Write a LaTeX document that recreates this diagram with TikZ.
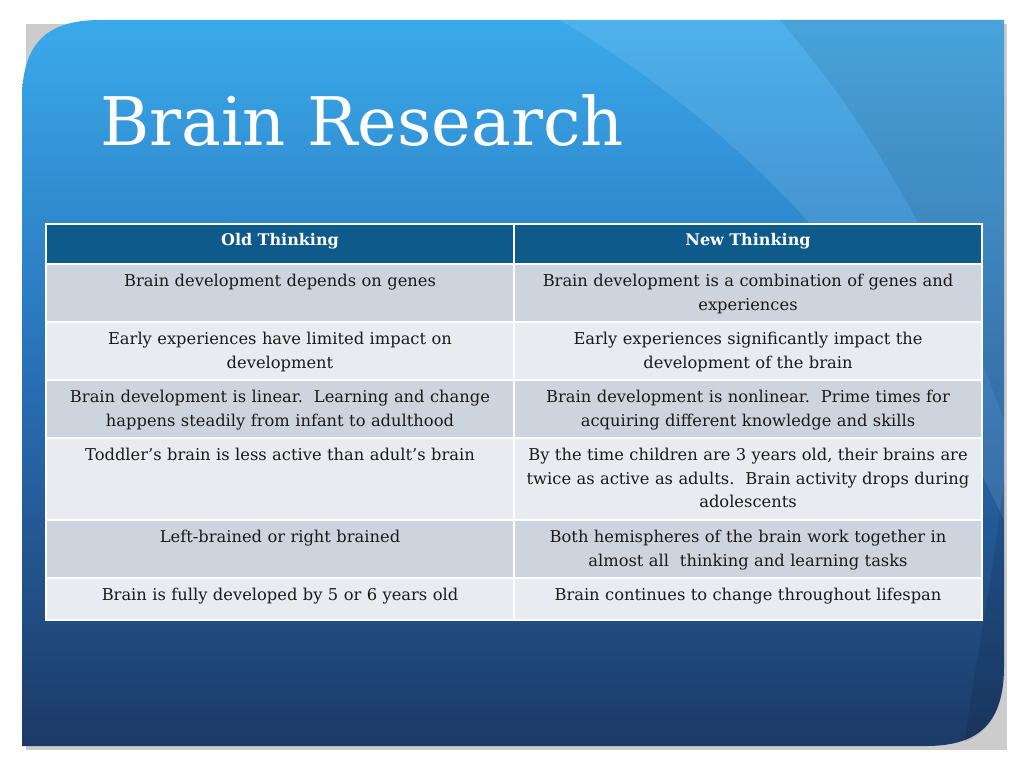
\documentclass[tikz,border=0pt]{standalone}
\usepackage{fontspec}
\setmainfont{DejaVu Serif}
\usetikzlibrary{calc}
\definecolor{hdr}{HTML}{0E5A8A}
\definecolor{rowA}{HTML}{CED4DD}
\definecolor{rowB}{HTML}{E8EBEF}
\definecolor{txt}{HTML}{1A1A1A}
\tikzset{
  cell/.style={anchor=north,text width=460pt,align=center,font=\fontsize{16.3}{23.5}\selectfont,text=txt,inner sep=0pt},
  hcell/.style={anchor=north,text width=460pt,align=center,font=\fontsize{16}{20}\selectfont\bfseries,text=white,inner sep=0pt},
}
\begin{document}
\begin{tikzpicture}[x=1pt,y=-1pt]
\useasboundingbox (0,0) rectangle (1024,768);
\fill[white] (0,0) rectangle (1024,768);
\fill[gray!40] (26,24) -- (26,750) -- (1007,750) -- (1007,24) -- cycle;
\shade[top color={rgb,255:red,58;green,170;blue,235}, bottom color={rgb,255:red,28;green,58;blue,102}, middle color={rgb,255:red,40;green,110;blue,180}]
  (22,746) -- (22,100) .. controls (22,45) and (45,20) .. (100,20) -- (1004,20) -- (1004,666) .. controls (1004,721) and (981,746) .. (926,746) -- cycle;
\fill[white,opacity=0.10] (560,20) .. controls (760,140) and (900,300) .. (1004,520) -- (1004,20) -- cycle;
\fill[black,opacity=0.08] (780,20) .. controls (900,160) and (960,300) .. (1004,420) -- (1004,20) -- cycle;
\fill[black,opacity=0.10] (1004,480) .. controls (990,600) and (975,660) .. (965,742) .. controls (995,730) and (1004,700) .. (1004,666) -- cycle;
\node[anchor=base west,text=white,font=\fontsize{67}{72}\selectfont,inner sep=0pt] (title) at (100,145) {Brain Research};
% table
\fill[hdr] (46,224) rectangle (982,264);
\fill[rowA] (46,264) rectangle (982,322);
\fill[rowB] (46,322) rectangle (982,380);
\fill[rowA] (46,380) rectangle (982,438);
\fill[rowB] (46,438) rectangle (982,520);
\fill[rowA] (46,520) rectangle (982,578);
\fill[rowB] (46,578) rectangle (982,620);
\draw[white,line width=1.2pt] (46,224) rectangle (982,620);
\foreach \y in {264,322,380,438,520,578} \draw[white,line width=1.2pt] (46,\y) -- (982,\y);
\draw[white,line width=1.2pt] (514,224) -- (514,620);
\node[hcell] (h1) at (280,233) {Old Thinking};
\node[hcell] (h2) at (748,233) {New Thinking};
\node[cell] (a1) at (280,274) {Brain development depends on genes};
\node[cell] (b1) at (748,274) {Brain development is a combination of genes and\\experiences};
\node[cell] (a2) at (280,332) {Early experiences have limited impact on\\development};
\node[cell] (b2) at (748,332) {Early experiences significantly impact the\\development of the brain};
\node[cell] (a3) at (280,390) {Brain development is linear.\ \ Learning and change\\happens steadily from infant to adulthood};
\node[cell] (b3) at (748,390) {Brain development is nonlinear.\ \ Prime times for\\acquiring different knowledge and skills};
\node[cell] (a4) at (280,448) {Toddler’s brain is less active than adult’s brain};
\node[cell] (b4) at (748,448) {By the time children are 3 years old, their brains are\\twice as active as adults.\ \ Brain activity drops during\\adolescents};
\node[cell] (a5) at (280,530) {Left-brained or right brained};
\node[cell] (b5) at (748,530) {Both hemispheres of the brain work together in\\almost all\ \ thinking and learning tasks};
\node[cell] (a6) at (280,588) {Brain is fully developed by 5 or 6 years old};
\node[cell] (b6) at (748,588) {Brain continues to change throughout lifespan};
\end{tikzpicture}
\end{document}
